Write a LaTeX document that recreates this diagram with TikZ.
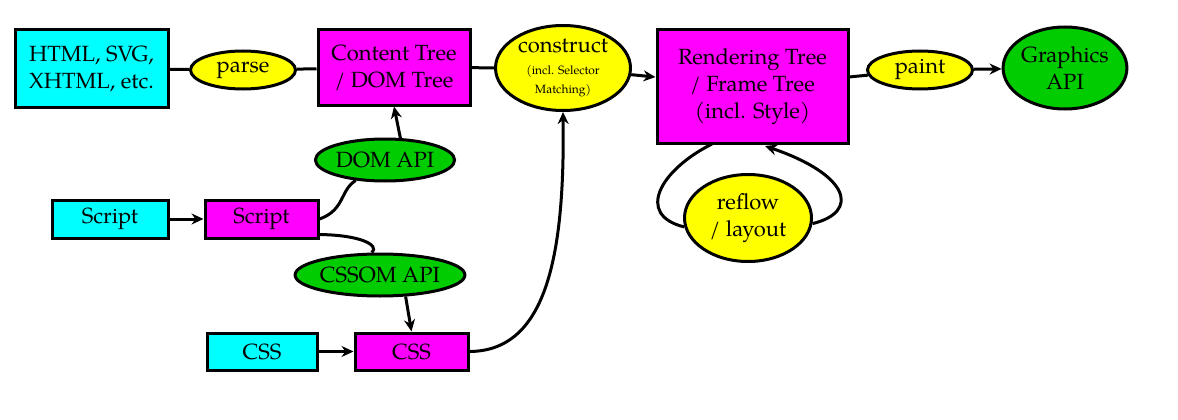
\documentclass[tikz,border=0pt]{standalone}
\usepackage{fontspec}
\setmainfont{TeX Gyre Pagella}
\usetikzlibrary{shapes.geometric,arrows.meta}
\definecolor{cya}{RGB}{0,255,255}
\definecolor{mag}{RGB}{255,0,255}
\definecolor{yel}{RGB}{255,255,0}
\definecolor{grn}{RGB}{0,204,0}
\begin{document}
\begin{tikzpicture}[x=1pt,y=-1pt,line width=3pt,
  box/.style={draw,rectangle,inner sep=0pt,align=center,font=\fontsize{22}{27}\selectfont},
  ell/.style={draw,ellipse,inner sep=0pt,align=center,font=\fontsize{22}{27}\selectfont},
  cy/.style={box,fill=cya},
  mg/.style={box,fill=mag},
  ye/.style={ell,fill=yel},
  gr/.style={ell,fill=grn},
  arr/.style={-{Stealth[length=12pt,width=11pt]}}]
\useasboundingbox (0,0) rectangle (1178,420);
\node[cy,minimum width=153,minimum height=77] (html) at (91.5,68.5) {HTML, SVG,\\XHTML, etc.};
\node[ye,minimum width=105,minimum height=38] (parse) at (243,70) {parse};
\node[mg,minimum width=152,minimum height=75] (dom) at (394,67.5) {Content Tree\\/ DOM Tree};
\node[ye,minimum width=135,minimum height=85] (cons) at (563,68) {construct\\[-5pt]{\fontsize{12}{13}\selectfont (incl. Selector}\\[-8pt]{\fontsize{12}{13}\selectfont Matching)}};
\node[mg,minimum width=191,minimum height=113] (rend) at (752.5,86.5) {Rendering Tree\\/ Frame Tree\\(incl. Style)};
\node[ye,minimum width=105,minimum height=38] (paint) at (920,70) {paint};
\node[gr,minimum width=120,minimum height=82] (gfx) at (1065,68) {Graphics\\API};
\node[gr,minimum width=122,minimum height=42] (domapi) at (385,160) {DOM API};
\node[cy,minimum width=116,minimum height=38] (s1) at (110,219) {Script};
\node[mg,minimum width=113,minimum height=38] (s2) at (261.5,219) {Script};
\node[gr,minimum width=142,minimum height=42] (cssom) at (380,275) {CSSOM API};
\node[cy,minimum width=110,minimum height=37] (c1) at (262,351.5) {CSS};
\node[mg,minimum width=113,minimum height=37] (c2) at (411.5,351.5) {CSS};
\node[ye,minimum width=127,minimum height=87] (reflow) at (748,218) {reflow\\/ layout};
\draw (html) -- (parse);
\draw (parse) -- (dom);
\draw (dom) -- (cons);
\draw[arr] (cons) -- (rend);
\draw (rend) -- (paint);
\draw[arr] (paint) -- (gfx);
\draw[arr] (s1) -- (s2);
\draw[arr] (c1) -- (c2);
\draw (s2.east) .. controls (345,210) and (340,190) .. (domapi.215);
\draw[arr] (domapi.55) -- (dom.south);
\draw (s2.-15) .. controls (360,235) and (380,245) .. (cssom.110);
\draw[arr] (cssom.-40) -- (c2.north);
\draw[arr] (c2.east) .. controls (545,351) and (565,260) .. (cons.south);
\coordinate (la) at (712,144);
\coordinate (lb) at (765,146);
\draw (la) .. controls (660,170) and (635,215) .. (reflow.188);
\draw[arr] (reflow.-5) .. controls (860,212) and (850,175) .. (lb);
\end{tikzpicture}
\end{document}
